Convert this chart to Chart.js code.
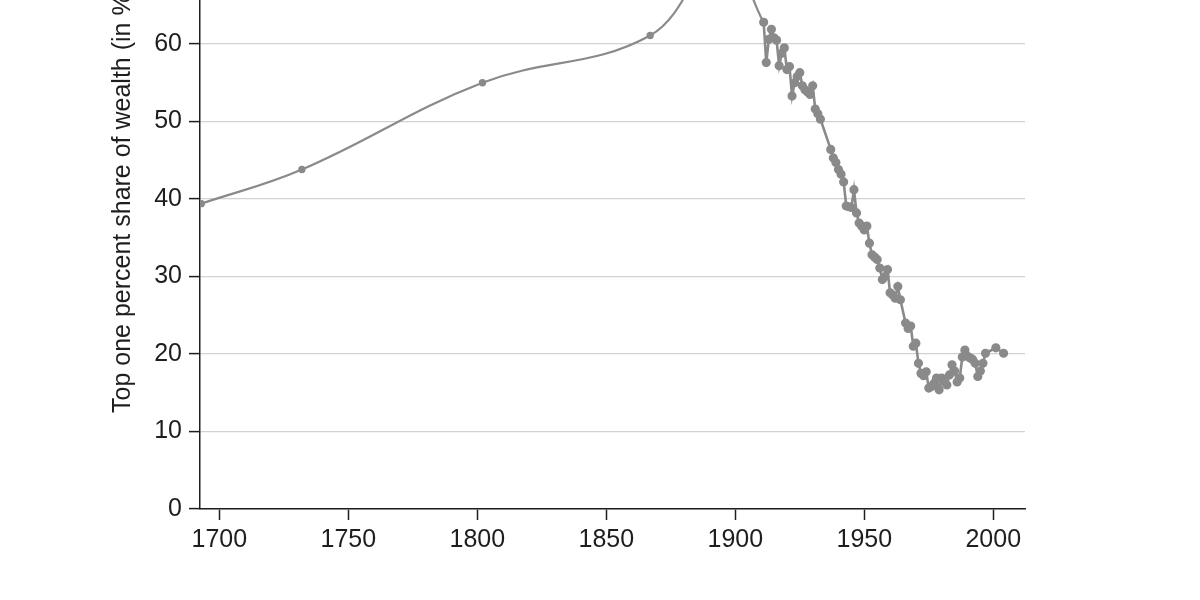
<!DOCTYPE html>
<html>
<head>
<meta charset="utf-8">
<script src="https://cdn.jsdelivr.net/npm/chart.js@4/dist/chart.umd.min.js"></script>
<style>
  html, body { margin: 0; padding: 0; background: #fff; overflow: hidden; }
  body { width: 1200px; height: 600px; position: relative; }
  #wrap { position: absolute; left: 0; top: -140px; width: 1200px; height: 740px; }
</style>
</head>
<body>
<div id="wrap"><canvas id="chart"></canvas></div>
<script>
// sparse early estimates, drawn as a smooth curve
const earlyYears = [1693, 1732, 1802, 1867, 1895, 1911];
const earlyShare = [39.4, 43.8, 55.0, 61.1, 72.0, 62.8];

// annual series from 1911 on
const modernYears = [
  1911, 1912, 1913, 1914, 1915, 1916, 1917, 1918, 1919, 1920,
  1921, 1922, 1923, 1924, 1925, 1926, 1927, 1928, 1929, 1930,
  1931, 1932, 1933, 1937, 1938, 1939, 1940, 1941, 1942, 1943,
  1944, 1945, 1946, 1947, 1948, 1949, 1950, 1951, 1952, 1953,
  1954, 1955, 1956, 1957, 1958, 1959, 1960, 1961, 1962, 1963,
  1964, 1966, 1967, 1968, 1969, 1970, 1971, 1972, 1973, 1974,
  1975, 1976, 1977, 1978, 1979, 1980, 1981, 1982, 1983, 1984,
  1985, 1986, 1987, 1988, 1989, 1990, 1991, 1992, 1993, 1994,
  1995, 1996, 1997, 2001, 2004
];
const modernShare = [
  62.8, 57.6, 60.6, 61.9, 60.8, 60.5, 57.2, 58.8, 59.5, 56.7,
  57.1, 53.3, 55.0, 55.8, 56.3, 54.6, 54.1, 53.8, 53.5, 54.6,
  51.6, 51.0, 50.3, 46.4, 45.3, 44.7, 43.8, 43.2, 42.2, 39.1,
  39.0, 38.9, 41.2, 38.2, 36.9, 36.5, 36.0, 36.5, 34.3, 32.8,
  32.5, 32.2, 31.1, 29.6, 30.0, 30.9, 27.9, 27.6, 27.2, 28.7,
  27.0, 24.0, 23.3, 23.6, 21.0, 21.4, 18.8, 17.5, 17.2, 17.7,
  15.6, 15.8, 16.2, 16.9, 15.4, 16.9, 16.4, 16.0, 17.3, 18.6,
  17.8, 16.4, 16.9, 19.6, 20.5, 19.7, 19.5, 19.3, 18.8, 17.1,
  17.8, 18.8, 20.1, 20.8, 20.1
];

const xTicks = [1700, 1750, 1800, 1850, 1900, 1950, 2000];
const yTicks = [0, 10, 20, 30, 40, 50, 60, 70, 80];
const yTitle = 'Top one percent share of wealth (in %)';

const lineGrey = '#8a8a8a';
const inkColor = '#1e1e1e';
const tickFont = { family: '"Liberation Sans", Arial, Helvetica, sans-serif', size: 25 };

const toPoints = (xs, ys) => xs.map((x, i) => ({ x, y: ys[i] }));

new Chart(document.getElementById('chart'), {
  type: 'line',
  data: {
    datasets: [
      {
        data: toPoints(earlyYears, earlyShare),
        borderColor: lineGrey,
        backgroundColor: lineGrey,
        borderWidth: 2.2,
        pointRadius: 2.6,
        pointHoverRadius: 2.6,
        tension: 0.4,
        fill: false,
      },
      {
        data: toPoints(modernYears, modernShare),
        borderColor: lineGrey,
        backgroundColor: lineGrey,
        borderWidth: 2.6,
        pointRadius: 3.3,
        pointHoverRadius: 3.3,
        tension: 0,
        fill: false,
      },
    ],
  },
  options: {
    responsive: true,
    maintainAspectRatio: false,
    animation: false,
    events: [],
    layout: { padding: { top: 29, right: 175, bottom: 0, left: 0 } },
    plugins: {
      legend: { display: false },
      tooltip: { enabled: false },
    },
    scales: {
      x: {
        type: 'linear',
        min: 1692.5,
        max: 2012.3,
        afterFit: scale => { scale.height = 91; },
        afterBuildTicks: scale => { scale.ticks = xTicks.map(v => ({ value: v })); },
        grid: { drawOnChartArea: false, drawTicks: true, tickLength: 11, tickColor: inkColor, tickWidth: 1.5 },
        border: { display: true, color: inkColor, width: 1.5 },
        ticks: { color: inkColor, font: tickFont, padding: 5, maxRotation: 0, autoSkip: false, callback: v => String(v) },
      },
      y: {
        min: 0,
        max: 80,
        afterFit: scale => { scale.width = 200; },
        afterBuildTicks: scale => { scale.ticks = yTicks.map(v => ({ value: v })); },
        grid: { color: '#d2d2d2', lineWidth: 1.2, drawTicks: true, tickLength: 11, tickColor: inkColor, tickWidth: 1.5 },
        border: { display: true, color: inkColor, width: 1.5 },
        ticks: { color: inkColor, font: tickFont, padding: 7, callback: v => String(v) },
        title: {
          display: true,
          text: yTitle,
          color: inkColor,
          font: tickFont,
          padding: { top: 108, bottom: 0 },
        },
      },
    },
  },
});
</script>
</body>
</html>
